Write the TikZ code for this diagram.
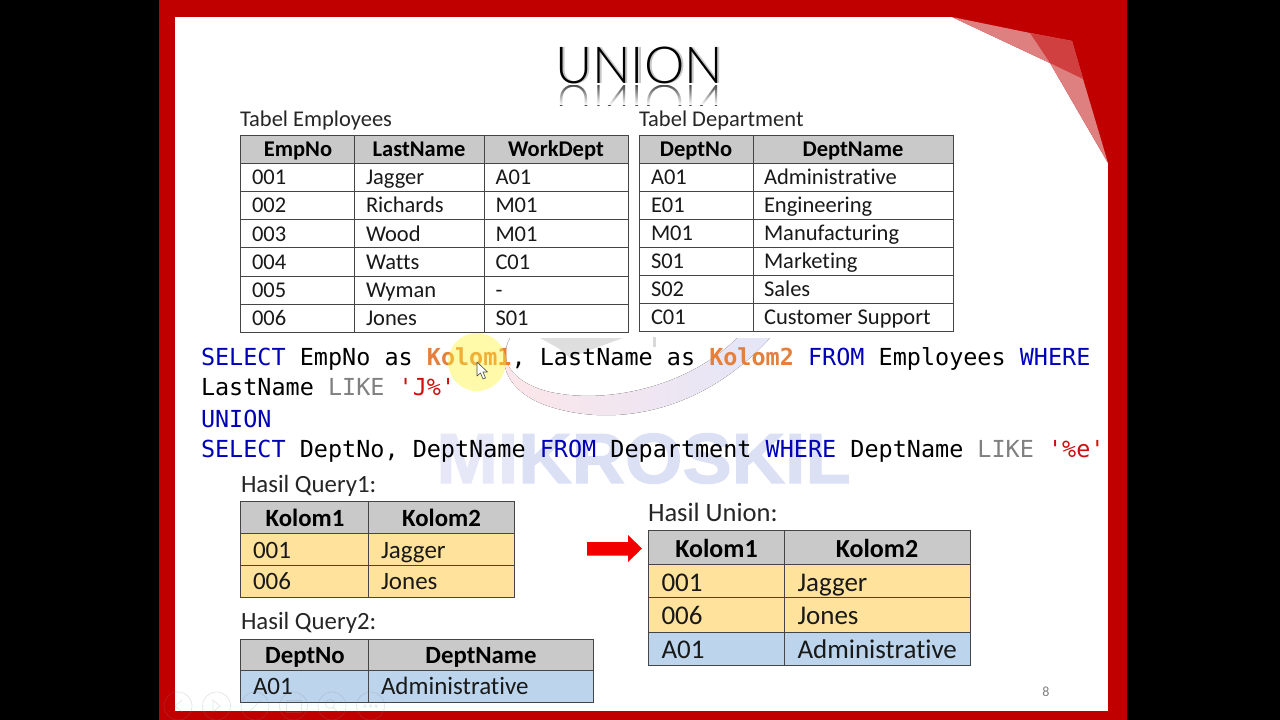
\documentclass[tikz,border=0pt]{standalone}
\usepackage{fontspec}
\setmainfont{Carlito}[Ligatures=NoCommon]
\newfontfamily\codefont{DejaVu Sans Mono}
\newfontfamily\markfont{Liberation Sans}[BoldFeatures={FakeBold=1.6}]
\newfontfamily\titlefont{Lato Light}
\usetikzlibrary{fadings}
\definecolor{slidered}{HTML}{C00000}
\definecolor{headgray}{HTML}{C9C9C9}
\definecolor{rowgold}{HTML}{FFE29B}
\definecolor{rowblue}{HTML}{BCD4EC}
\definecolor{gridc}{HTML}{454545}
\definecolor{kw}{HTML}{0000B8}
\definecolor{koltxt}{HTML}{E57F3C}
\definecolor{liketxt}{HTML}{808080}
\definecolor{strtxt}{HTML}{D01010}
\definecolor{wmark}{HTML}{DCE0F5}
\definecolor{wmarkpale}{HTML}{E6E8F7}
\definecolor{swpink}{HTML}{FDE6E9}
\definecolor{swblue}{HTML}{E4E6F8}
\tikzfading[name=fadeup, top color=transparent!100, bottom color=transparent!0]
\tikzset{
  x=1pt,y=-1pt,
  smalltxt/.style={inner sep=0pt,outer sep=0pt,anchor=base west,text=black!90,font=\fontsize{22.5}{26}\selectfont},
  smallhead/.style={inner sep=0pt,outer sep=0pt,anchor=base,text=black,font=\fontsize{22.5}{26}\selectfont\bfseries},
  bigtxt/.style={inner sep=0pt,outer sep=0pt,anchor=base west,text=black!90,yshift=-1.2pt,font=\fontsize{25}{29}\selectfont},
  bighead/.style={inner sep=0pt,outer sep=0pt,anchor=base,text=black,yshift=-1pt,font=\fontsize{24.8}{29}\selectfont\bfseries},
  hugetxt/.style={inner sep=0pt,outer sep=0pt,anchor=base west,text=black!90,yshift=-1pt,font=\fontsize{27}{31}\selectfont},
  hugehead/.style={inner sep=0pt,outer sep=0pt,anchor=base,text=black,yshift=-1pt,font=\fontsize{26}{30}\selectfont\bfseries},
  caption/.style={inner sep=0pt,outer sep=0pt,anchor=base west,text=black!85,font=\fontsize{22.5}{26}\selectfont},
  bigcaption/.style={inner sep=0pt,outer sep=0pt,anchor=base west,text=black!85,yshift=-1pt,font=\fontsize{24.8}{29}\selectfont},
  hugecaption/.style={inner sep=0pt,outer sep=0pt,anchor=base west,text=black!85,yshift=-1pt,font=\fontsize{26.5}{30}\selectfont},
  codeline/.style={inner sep=0pt,outer sep=0pt,anchor=base west,text=black,font=\fontsize{23.45}{28}\codefont},
  titletxt/.style={inner sep=0pt,anchor=base,font=\fontsize{51}{58}\titlefont},
  grid/.style={draw=gridc,line width=0.8pt},
  ctrl/.style={draw=black!45,line width=0.7pt,opacity=0.22},
}
\newcommand{\KW}[1]{\textcolor{kw}{#1}}
\newcommand{\KL}[1]{\textcolor{koltxt}{\bfseries #1}}
\newcommand{\LK}[1]{\textcolor{liketxt}{#1}}
\newcommand{\ST}[1]{\textcolor{strtxt}{#1}}
\begin{document}
\begin{tikzpicture}
\useasboundingbox (0,0) rectangle (1280,720);
% frame
\fill[black] (0,0) rectangle (1280,720);
\fill[slidered] (159,0) rectangle (1127,720);
\fill[white] (175,17) rectangle (1108,711);
% corner fold
\fill[slidered] (952,17) -- (1108,17) -- (1108,163) -- (1050,63) -- cycle;
\fill[slidered!50!white] (952,17) -- (1030,33) -- (1072,41) -- (1083,79) -- (1108,163) -- (1050,63) -- cycle;
\fill[slidered!75!white] (1030,33) -- (1072,41) -- (1083,79) -- (1050,63) -- cycle;
% watermark
\fill[left color=swpink,right color=swblue] (510,338) .. controls (495,365) and (510,392) .. (545,405) .. controls (610,428) and (700,415) .. (770,338) -- (737,338) .. controls (690,385) and (610,405) .. (550,392) .. controls (520,385) and (495,365) .. (510,338) -- cycle;
\fill[black!13] (540,338) -- (623,338) -- (590,350) -- (570,358) -- (558,348) -- cycle;
\fill[black!15] (653,337) rectangle (656,347);
\node[inner sep=0pt,text=wmark,anchor=base,font=\fontsize{71}{80}\markfont\bfseries] (watermark) at (643.5,483) {\scalebox{1.04}[1]{\textcolor{wmarkpale}{MI}KROSKIL}};
% title
\begin{scope}
  \clip (500,85) rectangle (780,105);
  \node[titletxt,text=black!70,yscale=-1,transform shape] (titlemirror) at (639,85) {UNION};
  \fill[white,path fading=fadeup] (500,85) rectangle (780,105);
\end{scope}
\node[titletxt,text=black!22] (titleshade) at (641.5,83.5) {UNION};
\node[titletxt,text=black] (title) at (639,83.3) {UNION};
% captions
\node[caption] (capA) at (240,126) {Tabel Employees};
\node[caption] (capB) at (639,126) {Tabel Department};
\node[bigcaption] (capC) at (241,491.5) {Hasil Query1:};
\node[bigcaption] (capD) at (241,628.3) {Hasil Query2:};
\node[hugecaption] (capE) at (648,520) {Hasil Union:};
% table employees
\fill[headgray] (240,135) rectangle (628,163);
\draw[grid] (240,135) rectangle (628,332);
\draw[grid] (354,135) -- (354,332) (484,135) -- (484,332);
\draw[grid] (240,163) -- (628,163) (240,191) -- (628,191) (240,219.5) -- (628,219.5) (240,247.5) -- (628,247.5) (240,276) -- (628,276) (240,304) -- (628,304);
\node[smallhead] (a1) at (298,156.5) {EmpNo};
\node[smallhead] (a2) at (419,156.5) {LastName};
\node[smallhead] (a3) at (556,156.5) {WorkDept};
\node[smalltxt] (a4) at (252,184) {001};
\node[smalltxt] (a5) at (366,184) {Jagger};
\node[smalltxt] (a6) at (495.5,184) {A01};
\node[smalltxt] (a7) at (252,212.5) {002};
\node[smalltxt] (a8) at (366,212.5) {Richards};
\node[smalltxt] (a9) at (495.5,212.5) {M01};
\node[smalltxt] (a10) at (252,241) {003};
\node[smalltxt] (a11) at (366,241) {Wood};
\node[smalltxt] (a12) at (495.5,241) {M01};
\node[smalltxt] (a13) at (252,269) {004};
\node[smalltxt] (a14) at (366,269) {Watts};
\node[smalltxt] (a15) at (495.5,269) {C01};
\node[smalltxt] (a16) at (252,297.5) {005};
\node[smalltxt] (a17) at (366,297.5) {Wyman};
\node[smalltxt] (a18) at (495.5,297.5) {-};
\node[smalltxt] (a19) at (252,325.5) {006};
\node[smalltxt] (a20) at (366,325.5) {Jones};
\node[smalltxt] (a21) at (495.5,325.5) {S01};
% table department
\fill[headgray] (639,135) rectangle (953,163);
\draw[grid] (639,135) rectangle (953,331);
\draw[grid] (753,135) -- (753,331);
\draw[grid] (639,163) -- (953,163) (639,191) -- (953,191) (639,219) -- (953,219) (639,247) -- (953,247) (639,275) -- (953,275) (639,303) -- (953,303);
\node[smallhead] (b1) at (696,156) {DeptNo};
\node[smallhead] (b2) at (853,156) {DeptName};
\node[smalltxt] (b3) at (651,184.2) {A01};
\node[smalltxt] (b4) at (764,184.2) {Administrative};
\node[smalltxt] (b5) at (651,212.2) {E01};
\node[smalltxt] (b6) at (764,212.2) {Engineering};
\node[smalltxt] (b7) at (651,240.7) {M01};
\node[smalltxt] (b8) at (764,240.7) {Manufacturing};
\node[smalltxt] (b9) at (651,268.7) {S01};
\node[smalltxt] (b10) at (764,268.7) {Marketing};
\node[smalltxt] (b11) at (651,296.7) {S02};
\node[smalltxt] (b12) at (764,296.7) {Sales};
\node[smalltxt] (b13) at (651,324.7) {C01};
\node[smalltxt] (b14) at (764,324.7) {Customer Support};
% code
\node[codeline] (c1) at (201,365) {\KW{SELECT} EmpNo as \KL{Kolom1}, LastName as \KL{Kolom2} \KW{FROM} Employees \KW{WHERE}};
\node[codeline] (c2) at (201,395) {LastName \LK{LIKE} \ST{'J\%'}};
\node[codeline] (c3) at (201,427) {\KW{UNION}};
\node[codeline] (c4) at (201,457.5) {\KW{SELECT} DeptNo, DeptName \KW{FROM} Department \KW{WHERE} DeptName \LK{LIKE} \ST{'\%e'}};
% highlight and cursor
\fill[yellow!80!white,opacity=0.42] (477,362) circle (29);
\draw[fill=white,draw=black!70,line width=0.6pt,line join=round] (477,362) -- (477,376) -- (480.5,373) -- (483,379) -- (485.5,378) -- (483,372) -- (487.5,372) -- cycle;
% query 1
\fill[headgray] (240,501.7) rectangle (514.5,533.3);
\fill[rowgold] (240,533.3) rectangle (514.5,597.7);
\draw[grid] (240,501.7) rectangle (514.5,597.7);
\draw[grid] (368.5,501.7) -- (368.5,597.7) (240,533.3) -- (514.5,533.3) (240,565.3) -- (514.5,565.3);
\node[bighead] (d1) at (305,525) {Kolom1};
\node[bighead] (d2) at (441.5,525) {Kolom2};
\node[bigtxt] (d3) at (253,557.3) {001};
\node[bigtxt] (d4) at (381,557.3) {Jagger};
\node[bigtxt] (d5) at (253,588.7) {006};
\node[bigtxt] (d6) at (381,588.7) {Jones};
% query 2
\fill[headgray] (240,639) rectangle (593.5,670);
\fill[rowblue] (240,670) rectangle (593.5,702.3);
\draw[grid] (240,639) rectangle (593.5,702.3);
\draw[grid] (368.5,639) -- (368.5,702.3) (240,670) -- (593.5,670);
\node[bighead] (e1) at (305,662) {DeptNo};
\node[bighead] (e2) at (481,662) {DeptName};
\node[bigtxt] (e3) at (253,693.3) {A01};
\node[bigtxt] (e4) at (381,693.3) {Administrative};
% union
\fill[headgray] (648,530.7) rectangle (970,564);
\fill[rowgold] (648,564) rectangle (970,632.3);
\fill[rowblue] (648,632.3) rectangle (970,665.7);
\draw[grid] (648,530.7) rectangle (970,665.7);
\draw[grid] (784.3,530.7) -- (784.3,665.7) (648,564) -- (970,564) (648,597.7) -- (970,597.7) (648,632.3) -- (970,632.3);
\node[hugehead] (f1) at (716.5,556) {Kolom1};
\node[hugehead] (f2) at (877,556) {Kolom2};
\node[hugetxt] (f3) at (661.5,590) {001};
\node[hugetxt] (f4) at (797.5,590) {Jagger};
\node[hugetxt] (f5) at (661.5,623.3) {006};
\node[hugetxt] (f6) at (797.5,623.3) {Jones};
\node[hugetxt] (f7) at (661.5,657.7) {A01};
\node[hugetxt] (f8) at (797.5,657.7) {Administrative};
% block arrow
\fill[red!95!black] (587,542) -- (628,542) -- (628,535) -- (642,548.5) -- (628,562) -- (628,555.5) -- (587,555.5) -- cycle;
% page number
\node[inner sep=0pt,anchor=base,text=black!50,font=\fontsize{14}{16}\selectfont] (pagenum) at (1046,696) {8};
% slide show controls
\foreach \cx in {178,216.5,255,293.5,332,370.5} {\draw[ctrl] (\cx,706) circle (14);}
\draw[ctrl] (182,700) -- (175,706) -- (182,712);
\draw[ctrl] (213,700) -- (220,706) -- (213,712) -- cycle;
\draw[ctrl] (249,712) -- (261,700);
\draw[ctrl] (286,700) rectangle (301,712);
\draw[ctrl] (330,704) circle (4.5) (333,707.5) -- (338,712);
\draw[ctrl] (365,706) circle (1.5) (370.5,706) circle (1.5) (376,706) circle (1.5);
\end{tikzpicture}
\end{document}
